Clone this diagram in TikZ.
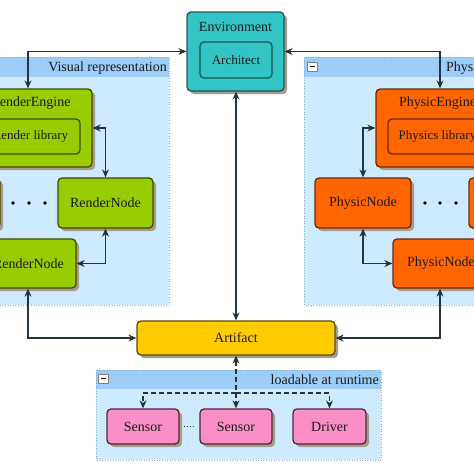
\documentclass[tikz,border=0pt]{standalone}
\usepackage{fontspec}
\setmainfont{Liberation Serif}
\usetikzlibrary{arrows.meta,shadows}
\definecolor{tealc}{HTML}{33C5C5}
\definecolor{tealb}{HTML}{1C5656}
\definecolor{greenc}{HTML}{99CC00}
\definecolor{greenb}{HTML}{3A4E00}
\definecolor{orangec}{HTML}{FF6600}
\definecolor{orangeb}{HTML}{6E2800}
\definecolor{yellowc}{HTML}{FFCC00}
\definecolor{yellowb}{HTML}{5E4A00}
\definecolor{pinkc}{HTML}{FA8FC8}
\definecolor{pinkb}{HTML}{4A2838}
\definecolor{panelc}{HTML}{CDEAFF}
\definecolor{headc}{HTML}{9CCCF8}
\definecolor{panelb}{HTML}{8CAECB}
\definecolor{arrc}{HTML}{25333F}
\definecolor{shc}{HTML}{A99B8B}
\definecolor{txt}{HTML}{1A1A1A}
\begin{document}
\begin{tikzpicture}[x=1pt,y=-1pt,
  base/.style={rounded corners=4pt, line width=1.3pt, inner sep=0pt, text=txt,
    font=\fontsize{14}{16}\selectfont},
  shd/.style={drop shadow={shadow xshift=3pt, shadow yshift=-3pt, fill=shc, opacity=1}},
  envbox/.style={base, shd, fill=tealc, draw=tealb},
  envin/.style={base, fill=tealc, draw=tealb, font=\fontsize{13}{15}\selectfont},
  grnbox/.style={base, shd, fill=greenc, draw=greenb},
  grnin/.style={base, fill=greenc, draw=greenb, font=\fontsize{13}{15}\selectfont},
  orgbox/.style={base, shd, fill=orangec, draw=orangeb},
  orgin/.style={base, fill=orangec, draw=orangeb, font=\fontsize{13}{15}\selectfont},
  artbox/.style={base, shd, fill=yellowc, draw=yellowb},
  pnkbox/.style={base, shd, fill=pinkc, draw=pinkb},
  lbl/.style={inner sep=0pt, text=txt, font=\fontsize{14}{16}\selectfont},
  conn/.style={draw=arrc, line width=1.1pt, {Stealth[length=8pt,width=7pt]}-{Stealth[length=8pt,width=7pt]}},
  conn1/.style={draw=arrc, line width=1.1pt, -{Stealth[length=8pt,width=7pt]}},
  dsh/.style={dash pattern=on 5pt off 3pt},
  head/.style={fill=headc},
  minus/.style={fill=white, draw=gray, line width=0.5pt}
]
\useasboundingbox (0,0) rectangle (474,474);
\clip (0,0) rectangle (474,474);

% panels
\fill[panelc] (-150,57) rectangle (169,305);
\fill[head] (-150,57) rectangle (169,77);
\draw[panelb, dotted, line width=0.6pt] (-150,57) rectangle (169,305);

\fill[panelc] (304,57) rectangle (620,305);
\fill[head] (304,57) rectangle (620,77);
\draw[panelb, dotted, line width=0.6pt] (304,57) rectangle (620,305);
\draw[minus] (307,62) rectangle (317,71);
\draw[black, line width=1.2pt] (309.5,66.5) -- (314.5,66.5);

\fill[panelc] (96,370) rectangle (381,460);
\fill[head] (96,370) rectangle (381,389);
\draw[panelb, dotted, line width=0.6pt] (96,370) rectangle (381,460);
\draw[minus] (98,374) rectangle (108,383);
\draw[black, line width=1.2pt] (100.5,378.5) -- (105.5,378.5);

\node[lbl, anchor=east] (vtitle) at (167,68) {Visual representation};
\node[lbl, anchor=west] (ptitle) at (446,68) {Physics};
\node[lbl, anchor=east] (ltitle) at (379,380) {loadable at runtime};

% environment
\node[envbox, minimum width=97pt, minimum height=79pt] (env) at (235.5,51.5) {};
\node[lbl] (envt) at (235.5,27) {Environment};
\node[envin, minimum width=72pt, minimum height=36pt] (arch) at (236,60) {Architect};

% render side
\node[grnbox, minimum width=123pt, minimum height=78pt] (re) at (30.5,128) {};
\node[lbl] (ret) at (30.5,103) {RenderEngine};
\node[grnin, minimum width=99pt, minimum height=35pt] (rl) at (30.5,136.5) {Render library};
\node[grnbox, minimum width=95pt, minimum height=50pt] (rn0) at (-47.5,203) {};
\node[grnbox, minimum width=95pt, minimum height=50pt] (rn) at (105.5,203) {RenderNode};
\node[grnbox, minimum width=95pt, minimum height=49pt] (brn) at (28.5,263.5) {RenderNode};
\foreach \x in {13,29,45} \fill[black] (\x,203) circle (1.9pt);

% physics side
\node[orgbox, minimum width=123pt, minimum height=78pt] (pe) at (437.5,128) {};
\node[lbl] (pet) at (437.5,103) {PhysicEngine};
\node[orgin, minimum width=99pt, minimum height=35pt] (pl) at (437.5,136.5) {Physics library};
\node[orgbox, minimum width=96pt, minimum height=50pt] (pn) at (363,203) {PhysicNode};
\node[orgbox, minimum width=96pt, minimum height=50pt] (pn0) at (517,203) {};
\node[orgbox, minimum width=96pt, minimum height=49pt] (bpn) at (441,263.5) {PhysicNode};
\foreach \x in {425,440,456} \fill[black] (\x,203) circle (1.9pt);

% artifact
\node[artbox, minimum width=198pt, minimum height=34pt] (art) at (236,338) {Artifact};

% sensors
\node[pnkbox, minimum width=72pt, minimum height=35pt] (s1) at (143,426.5) {Sensor};
\node[pnkbox, minimum width=72pt, minimum height=35pt] (s2) at (236,426.5) {Sensor};
\node[pnkbox, minimum width=73pt, minimum height=35pt] (drv) at (329.5,426.5) {Driver};
\draw[arrc, dotted, line width=1.2pt, shorten <=4pt, shorten >=4pt] (s1.east) -- (s2.west);

% connectors
\draw[conn] ([xshift=-2.5pt]re.north) |- (env.west);
\draw[conn] ([xshift=2.5pt]pe.north) |- (env.east);
\draw[conn] (re.east) -| (rn.north);
\draw[conn] (rn.south) |- (brn.east);
\draw[conn] ([xshift=-0.5pt]brn.south) |- (art.west);
\draw[conn] (pn.north) |- (pe.west);
\draw[conn] (pn.south) |- (bpn.west);
\draw[conn] ([xshift=-1pt]bpn.south) |- (art.east);
\draw[conn] (env.south -| art.north) -- (art.north);
\draw[conn, dsh] (art.south) -- (s2.north);
\coordinate (dj) at (236,393);
\draw[conn1, dsh] (dj) -| (s1.north);
\draw[conn1, dsh] (dj) -| (drv.north);
\end{tikzpicture}
\end{document}
